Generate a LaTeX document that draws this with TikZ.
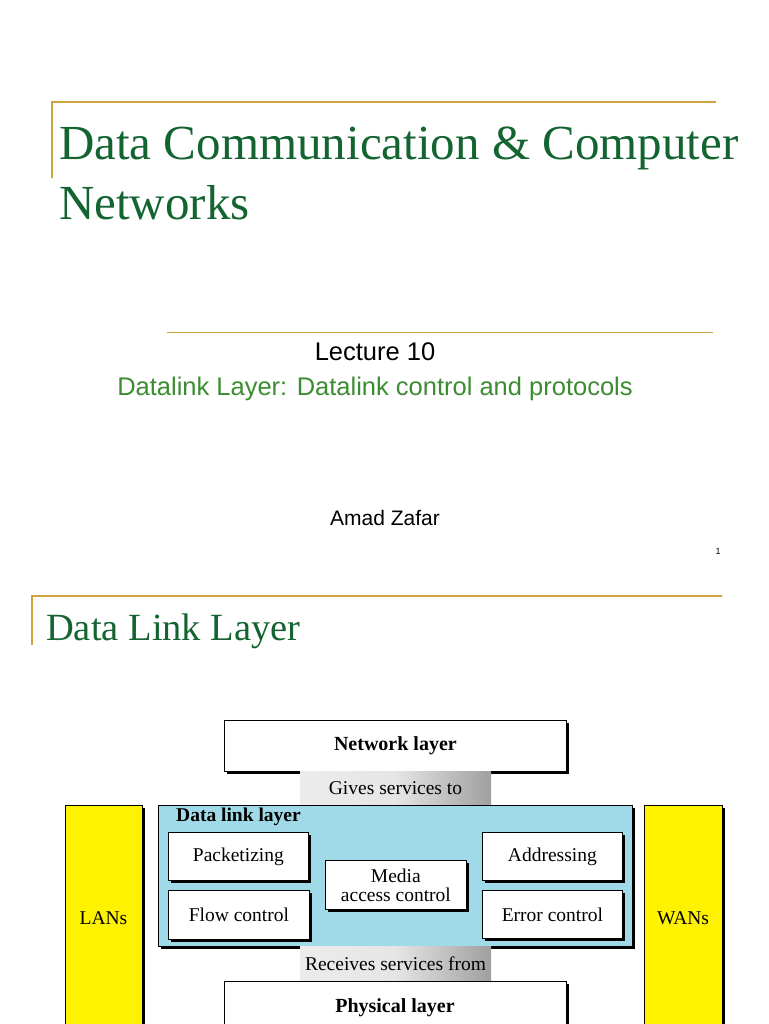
\documentclass[tikz,border=0pt]{standalone}
\usepackage{fontspec}
\setmainfont{Liberation Serif}
\newfontfamily\sans{Liberation Sans}
\usetikzlibrary{shadows}
\definecolor{ttl}{RGB}{20,100,50}
\definecolor{sub}{RGB}{60,140,50}
\definecolor{gold}{RGB}{205,165,60}
\definecolor{dll}{RGB}{160,218,232}
\begin{document}
\begin{tikzpicture}[x=1pt,y=-1pt,
 box/.style={draw=black,fill=white,line width=0.8pt,drop shadow={shadow xshift=3pt,shadow yshift=-3pt,fill=black,opacity=1}},
 svc/.style={left color=gray!15,right color=gray!75,middle color=gray!20,draw=none},
 yel/.style={draw=black,fill=yellow,line width=0.8pt,drop shadow={shadow xshift=3pt,shadow yshift=-3pt,fill=black,opacity=1}},
 lbl/.style={font=\fontsize{19.5}{21}\selectfont,align=center}]
\useasboundingbox (0,0) rectangle (768,1024);
\fill[white] (0,0) rectangle (768,1024);
% slide 1
\draw[gold,line width=1.2pt] (52,178) -- (52,102) -- (716,102);
\draw[gold,line width=1pt] (167,332) -- (713,332);
\node[anchor=base west,text=ttl,font=\fontsize{49}{54}\selectfont,inner sep=0] (t1) at (59,160) {Data Communication \& Computer};
\node[anchor=base west,text=ttl,font=\fontsize{49}{54}\selectfont,inner sep=0] (t2) at (59,219) {Networks};
\node[font=\sans\fontsize{25.5}{28}\selectfont] (lec) at (375,352) {Lecture 10};
\node[font=\sans\fontsize{25.5}{28}\selectfont,text=sub] (st) at (375,389) {Datalink Layer: Datalink control and protocols};
\node[font=\sans\fontsize{21}{24}\selectfont] (au) at (385,518) {Amad Zafar};
\node[font=\sans\fontsize{9}{10}\selectfont] (pg) at (718,551) {1};
% slide 2
\draw[gold,line width=1.2pt] (32,645) -- (32,596) -- (722,596);
\node[anchor=base west,text=ttl,font=\fontsize{38.5}{42}\selectfont,inner sep=0] (t3) at (46,640) {Data Link Layer};
% diagram
\node[yel,minimum width=77,minimum height=230,anchor=north west] (lan) at (65,805) {};
\node[lbl] at (103.5,918) {LANs};
\node[yel,minimum width=78,minimum height=230,anchor=north west] (wan) at (644,805) {};
\node[lbl] at (683,918) {WANs};
\node[box,minimum width=342,minimum height=51,anchor=north west,font=\bfseries\fontsize{20}{21}\selectfont] (net) at (224,720) {Network layer};
\shade[svc] (300,771) rectangle (491,805);
\node[lbl] (gs) at (395.5,788) {Gives services to};
\node[box,fill=dll,minimum width=474,minimum height=141,anchor=north west] (dl) at (158,805) {};
\node[anchor=north west,font=\bfseries\fontsize{19.5}{21}\selectfont,inner sep=0] (dlt) at (176,808) {Data link layer};
\node[box,lbl,minimum width=140,minimum height=48,anchor=north west] (pk) at (168,832) {Packetizing};
\node[box,lbl,minimum width=141,minimum height=49,anchor=north west] (fc) at (168,890) {Flow control};
\node[box,lbl,minimum width=141,minimum height=49,anchor=north west,inner sep=1pt] (mac) at (325,860) {Media\\[-2pt]access control};
\node[box,lbl,minimum width=140,minimum height=48,anchor=north west] (ad) at (482,832) {Addressing};
\node[box,lbl,minimum width=140,minimum height=48,anchor=north west] (ec) at (482,890) {Error control};
\shade[svc] (300,946) rectangle (491,981);
\node[lbl] (rs) at (395.5,964) {Receives services from};
\node[box,minimum width=342,minimum height=60,anchor=north west] (phy) at (224,981) {};
\node[font=\bfseries\fontsize{20}{21}\selectfont] at (395,1008) {Physical layer};
\end{tikzpicture}
\end{document}
